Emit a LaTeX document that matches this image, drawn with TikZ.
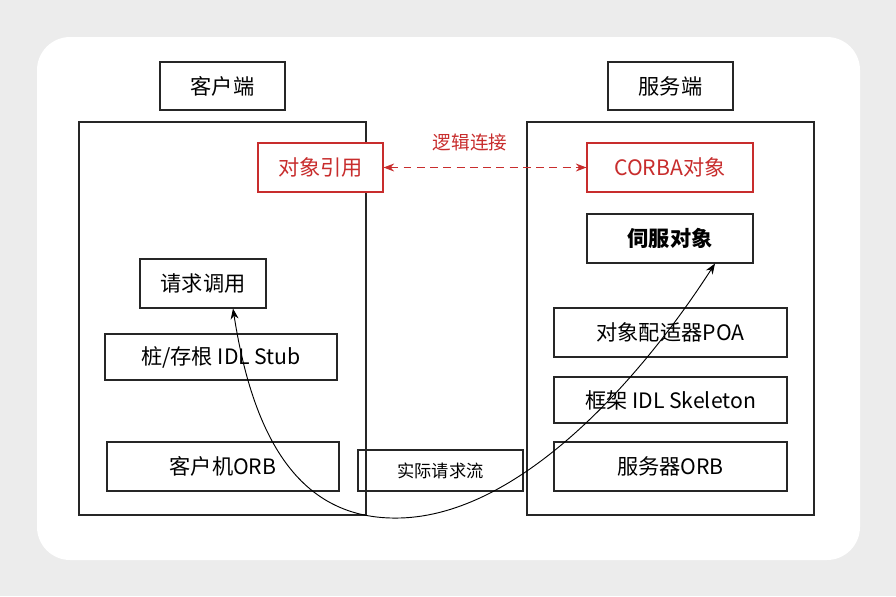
\documentclass[tikz,border=0pt]{standalone}
\usepackage{fontspec}
\setmainfont{Noto Sans CJK SC}
\usetikzlibrary{arrows.meta}
\definecolor{myred}{RGB}{200,45,45}
\definecolor{bg}{RGB}{236,236,236}
\begin{document}
\begin{tikzpicture}[x=0.0265cm,y=-0.0265cm,
  bx/.style={draw=black!85,line width=0.8pt,inner sep=0pt,font=\fontsize{16}{18}\selectfont},
  rbx/.style={bx,draw=myred,text=myred}]
\fill[bg] (0,0) rectangle (896,596);
\useasboundingbox (0,0) rectangle (896,596);
\fill[white,rounded corners=25] (37,37) rectangle (860,560);
\node[bx,minimum width=125*0.0265cm,minimum height=48*0.0265cm] (kh) at (222.5,86) {客户端};
\node[bx,minimum width=125*0.0265cm,minimum height=48*0.0265cm] (fw) at (670.5,86) {服务端};
\draw[black!85,line width=0.8pt] (79,122) rectangle (366,515) coordinate (cbig);
\draw[black!85,line width=0.8pt] (527,122) rectangle (814,515) coordinate (sbig);
\node[rbx,fill=white,minimum width=125*0.0265cm,minimum height=49*0.0265cm] (ref) at (320.5,167.5) {对象引用};
\node[rbx,minimum width=166*0.0265cm,minimum height=49*0.0265cm] (corba) at (670,167.5) {CORBA对象};
\node[bx,minimum width=166*0.0265cm,minimum height=49*0.0265cm,font=\fontsize{16}{18}\selectfont\bfseries] (sv) at (670,238.5) {伺服对象};
\node[bx,minimum width=126*0.0265cm,minimum height=49*0.0265cm] (req) at (203,283.5) {请求调用};
\node[bx,minimum width=232*0.0265cm,minimum height=46*0.0265cm] (stub) at (221,357) {桩/存根 IDL Stub};
\node[bx,minimum width=232*0.0265cm,minimum height=49*0.0265cm] (corb) at (223,466.5) {客户机ORB};
\node[bx,minimum width=165*0.0265cm,minimum height=41*0.0265cm,font=\fontsize{13}{15}\selectfont] (flow) at (440.5,470.5) {实际请求流};
\node[bx,minimum width=233*0.0265cm,minimum height=49*0.0265cm] (poa) at (670.5,332.5) {对象配适器POA};
\node[bx,minimum width=233*0.0265cm,minimum height=46*0.0265cm] (skel) at (670.5,400) {框架 IDL Skeleton};
\node[bx,minimum width=233*0.0265cm,minimum height=49*0.0265cm] (sorb) at (670.5,466.5) {服务器ORB};
\node[text=myred,font=\fontsize{14}{16}\selectfont] (lj) at (470,142) {逻辑连接};
\draw[myred,dash pattern=on 6pt off 4pt,line width=0.8pt,{Stealth[length=8pt]}-{Stealth[length=8pt]}] (ref.east) -- (corba.west);
\coordinate (low) at (400,518);
\draw[line width=0.7pt,{Stealth[length=8pt]}-{Stealth[length=8pt]}]
  ([xshift=30*0.0265cm]req.south) .. controls (258,470) and (320,520) .. (low)
  .. controls (520,515) and (640,380) .. ([xshift=45*0.0265cm]sv.south);
\end{tikzpicture}
\end{document}
